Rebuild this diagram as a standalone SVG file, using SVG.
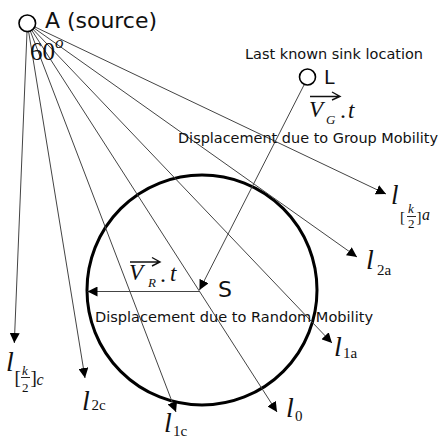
<svg xmlns="http://www.w3.org/2000/svg" width="445" height="444" viewBox="0 0 445 444">
<style>
.sans{font-family:"DejaVu Sans","Liberation Sans",sans-serif;fill:#111}
.ser{font-family:"Liberation Serif","DejaVu Serif",serif;fill:#111}
.it{font-style:italic}
.ray{stroke:#444;stroke-width:1;fill:none}
.node{fill:#fff;stroke:#000;stroke-width:1.6}
.vec{stroke:#111;stroke-width:1.4;fill:none}
</style>
<defs>
<marker id="ah" viewBox="0 0 10 10" refX="10" refY="5" markerWidth="10" markerHeight="10" markerUnits="userSpaceOnUse" orient="auto">
<path d="M0,0 L10,5 L0,10 z" fill="#000"/>
</marker>
</defs>
<rect width="445" height="444" fill="#fff"/>

<g id="region">
<circle cx="202" cy="290" r="115" fill="none" stroke="#000" stroke-width="3"/>
</g>

<g id="connectors">
<line class="ray" x1="34.8" y1="26.9" x2="386" y2="194" marker-end="url(#ah)"/>
<line class="ray" x1="34.1" y1="28.1" x2="357" y2="257" marker-end="url(#ah)"/>
<line class="ray" x1="33.0" y1="29.3" x2="332" y2="343" marker-end="url(#ah)"/>
<line class="ray" x1="31.8" y1="30.3" x2="277" y2="412" marker-end="url(#ah)"/>
<line class="ray" x1="30.3" y1="31.0" x2="176" y2="412" marker-end="url(#ah)"/>
<line class="ray" x1="28.6" y1="31.5" x2="85" y2="378" marker-end="url(#ah)"/>
<line class="ray" x1="27.0" y1="31.6" x2="14.3" y2="343" marker-end="url(#ah)"/>
<line class="ray" x1="304" y1="85" x2="199.5" y2="290" marker-end="url(#ah)"/>
<line class="ray" x1="200" y1="291.5" x2="87.5" y2="291.5" marker-end="url(#ah)"/>
</g>

<g id="node-A">
<circle class="node" cx="27.3" cy="23.3" r="8.3"/>
<text class="sans" x="45" y="28" font-size="21" textLength="112" lengthAdjust="spacingAndGlyphs">A (source)</text>
<text class="ser" x="30" y="60" font-size="25">60</text>
<text class="ser it" x="55" y="47.5" font-size="17">o</text>
</g>

<g id="node-L">
<text class="sans" x="245" y="59" font-size="14.5" textLength="178" lengthAdjust="spacingAndGlyphs">Last known sink location</text>
<circle class="node" cx="307.5" cy="77" r="8"/>
<text class="sans" x="324" y="84" font-size="19">L</text>
</g>

<g id="vg-label">
<path class="vec" d="M310,96.5 H340 M332,92 L340,96.5 L332,100"/>
<text class="ser it" x="309" y="117" font-size="23">V</text>
<text class="ser it" x="326" y="123.5" font-size="13">G</text>
<text class="ser" x="340" y="118" font-size="24">.</text>
<text class="ser it" x="348" y="118" font-size="23">t</text>
<text class="sans" x="178" y="143" font-size="14.4" textLength="260" lengthAdjust="spacingAndGlyphs">Displacement due to Group Mobility</text>
</g>

<g id="node-S">
<text class="sans" x="218" y="296.5" font-size="22">S</text>
<path class="vec" d="M130,262 H160 M152,257.5 L160,262 L152,266"/>
<text class="ser it" x="129" y="280" font-size="23">V</text>
<text class="ser it" x="148" y="286.5" font-size="13">R</text>
<text class="ser" x="160" y="282" font-size="24">.</text>
<text class="ser it" x="170" y="281" font-size="23">t</text>
<text class="sans" x="95" y="322" font-size="14.5" textLength="278" lengthAdjust="spacingAndGlyphs">Displacement due to Random Mobility</text>
</g>

<g id="label-lk2a">
<text class="ser it" x="391" y="204" font-size="27">l</text>
<text class="ser" x="400" y="222" font-size="15">[</text>
<text class="ser it" x="408" y="213" font-size="13">k</text>
<line x1="407" y1="216.5" x2="416" y2="216.5" stroke="#111" stroke-width="0.9"/>
<text class="ser" x="408" y="228" font-size="13">2</text>
<text class="ser" x="416.5" y="222" font-size="15">]</text>
<text class="ser it" x="422" y="220" font-size="16">a</text>
</g>

<g id="label-l2a">
<text class="ser it" x="366" y="269" font-size="28">l</text>
<text class="ser" x="377" y="275" font-size="15">2a</text>
</g>

<g id="label-l1a">
<text class="ser it" x="334" y="356" font-size="28">l</text>
<text class="ser" x="343" y="357.5" font-size="15">1a</text>
</g>

<g id="label-l0">
<text class="ser it" x="286" y="417" font-size="28">l</text>
<text class="ser" x="295" y="421" font-size="15">0</text>
</g>

<g id="label-l1c">
<text class="ser it" x="164" y="432" font-size="28">l</text>
<text class="ser" x="173" y="435.5" font-size="15">1c</text>
</g>

<g id="label-l2c">
<text class="ser it" x="82" y="410" font-size="28">l</text>
<text class="ser" x="91.5" y="410" font-size="15">2c</text>
</g>

<g id="label-lk2c">
<text class="ser it" x="6" y="371" font-size="28">l</text>
<text class="ser" x="14.5" y="384" font-size="19">[</text>
<text class="ser it" x="22" y="375" font-size="13">k</text>
<line x1="21" y1="377.5" x2="30" y2="377.5" stroke="#111" stroke-width="0.9"/>
<text class="ser" x="22" y="392" font-size="13">2</text>
<text class="ser" x="30.5" y="384" font-size="19">]</text>
<text class="ser it" x="36.5" y="385" font-size="16">c</text>
</g>
</svg>
